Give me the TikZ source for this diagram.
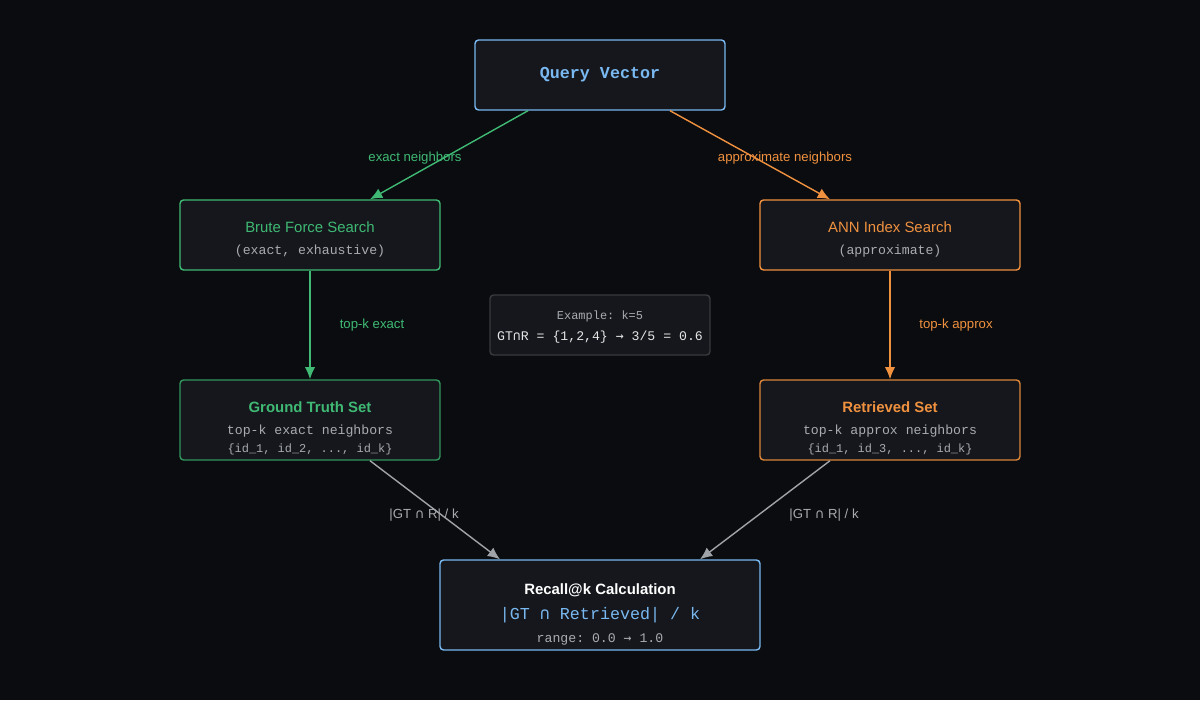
\documentclass[tikz,border=0pt]{standalone}
\usepackage{fontspec}
\setmainfont{Liberation Sans}
\setmonofont{Liberation Mono}
\newfontfamily\symfont{DejaVu Sans Mono}
\newfontfamily\symsans{DejaVu Sans}
\usetikzlibrary{arrows.meta}
\definecolor{bg}{HTML}{0A0C0F}
\definecolor{boxfill}{HTML}{15171C}
\definecolor{qblue}{HTML}{79B8F0}
\definecolor{egreen}{HTML}{3FB974}
\definecolor{aorange}{HTML}{F0913F}
\definecolor{rorange}{HTML}{D9853A}
\definecolor{txtgray}{HTML}{A8ABB0}
\definecolor{edgegray}{HTML}{A0A3A8}
\begin{document}
\begin{tikzpicture}[x=0.02cm, y=-0.02cm,
    box/.style={draw, rounded corners=2pt, fill=boxfill, line width=0.8pt, inner sep=0pt},
    lbl/.style={font=\fontsize{7.5}{9}\selectfont},
    sub/.style={font=\ttfamily\fontsize{7.5}{9}\selectfont, text=txtgray},
    conn/.style={-{Latex[length=7pt,width=6pt]}, line width=0.8pt}]
    \fill[bg] (0,0) rectangle (1200,700);

    % boxes
    \node[box, draw=qblue, minimum width=5cm, minimum height=1.4cm] (query) at (600,75) {};
    \node[box, draw=egreen, minimum width=5.2cm, minimum height=1.4cm] (brute) at (310,235) {};
    \node[box, draw=aorange, minimum width=5.2cm, minimum height=1.4cm] (ann) at (890,235) {};
    \node[box, draw=egreen!80!black, minimum width=5.2cm, minimum height=1.6cm] (gt) at (310,420) {};
    \node[box, draw=rorange, minimum width=5.2cm, minimum height=1.6cm] (ret) at (890,420) {};
    \node[box, draw=qblue, minimum width=6.4cm, minimum height=1.8cm] (recall) at (600,605) {};
    \node[box, draw=white!15!boxfill, minimum width=4.4cm, minimum height=1.2cm] (example) at (600,325) {};

    % box texts
    \node[font=\ttfamily\bfseries\fontsize{9.5}{11}\selectfont, text=qblue] (qt) at (600,75) {Query Vector};
    \node[font=\fontsize{8.5}{10}\selectfont, text=egreen] (bt) at (310,227) {Brute Force Search};
    \node[sub] (bs) at (310,251) {(exact, exhaustive)};
    \node[font=\fontsize{8.5}{10}\selectfont, text=aorange] (at) at (890,227) {ANN Index Search};
    \node[sub] (as) at (890,251) {(approximate)};
    \node[font=\bfseries\fontsize{8.5}{10}\selectfont, text=egreen] (gtt) at (310,407) {Ground Truth Set};
    \node[sub] (gts) at (310,431) {top-k exact neighbors};
    \node[sub, font=\ttfamily\fontsize{6.8}{8}\selectfont] (gtl) at (310,449) {\{id\_1, id\_2, ..., id\_k\}};
    \node[font=\bfseries\fontsize{8.5}{10}\selectfont, text=aorange] (rt) at (890,407) {Retrieved Set};
    \node[sub] (rs) at (890,431) {top-k approx neighbors};
    \node[sub, font=\ttfamily\fontsize{6.8}{8}\selectfont] (rl) at (890,449) {\{id\_1, id\_3, ..., id\_k\}};
    \node[font=\bfseries\fontsize{8.5}{10}\selectfont, text=white] (ct) at (600,590) {Recall@k Calculation};
    \node[font=\ttfamily\fontsize{9.5}{11}\selectfont, text=qblue] (cf) at (600,615) {|GT {\symfont∩} Retrieved| / k};
    \node[sub] (cr) at (600,639) {range: 0.0 {\symfont→} 1.0};
    \node[sub, font=\ttfamily\fontsize{6.8}{8}\selectfont] (ex1) at (600,316) {Example: k=5};
    \node[font=\ttfamily\fontsize{7.5}{9}\selectfont, text=white!90!black] (ex2) at (600,337) {GT{\symfont∩}R = \{1,2,4\} {\symfont→} 3/5 = 0.6};

    % connectors
    \draw[conn, egreen] ([xshift=-1.44cm]query.south) -- ([xshift=1.2cm]brute.north);
    \draw[conn, aorange] ([xshift=1.4cm]query.south) -- ([xshift=-1.2cm]ann.north);
    \draw[conn, egreen] (brute) -- (gt);
    \draw[conn, aorange] (ann) -- (ret);
    \draw[conn, edgegray] ([xshift=1.2cm]gt.south) -- ([xshift=-2cm]recall.north);
    \draw[conn, edgegray] ([xshift=-1.2cm]ret.south) -- ([xshift=2cm]recall.north);

    % connector labels
    \node[lbl, text=egreen] (l1) at (415,158) {exact neighbors};
    \node[lbl, text=aorange] (l2) at (785,158) {approximate neighbors};
    \node[lbl, text=egreen] (l3) at (372,325) {top-k exact};
    \node[lbl, text=aorange] (l4) at (956,325) {top-k approx};
    \node[lbl, text=txtgray] (l5) at (424,515) {|GT {\symsans∩} R| / k};
    \node[lbl, text=txtgray] (l6) at (824,515) {|GT {\symsans∩} R| / k};
\end{tikzpicture}
\end{document}
